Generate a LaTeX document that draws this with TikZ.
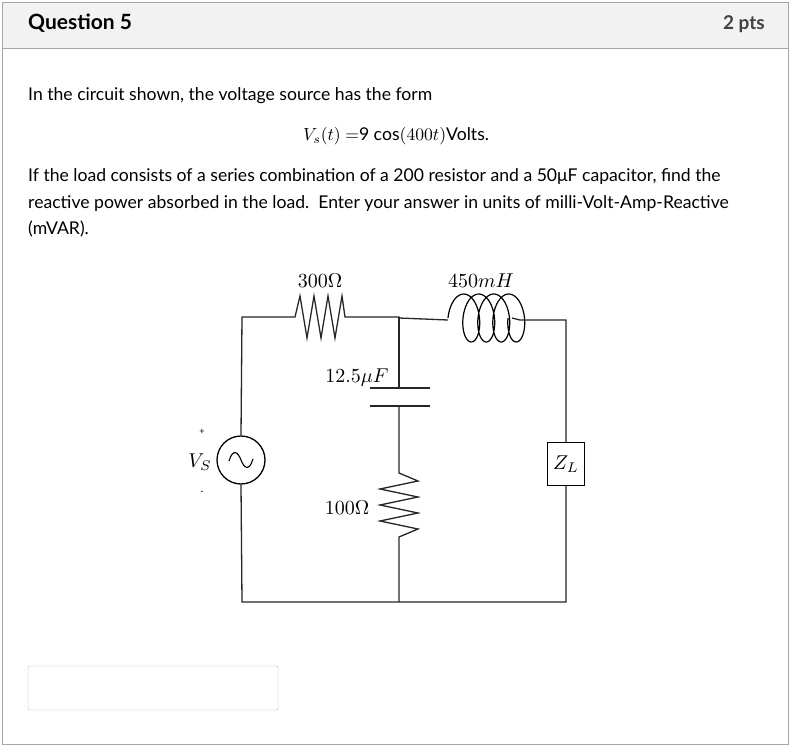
\documentclass[tikz,border=0pt]{standalone}
\usepackage{fontspec}
\setmainfont{Lato}
\begin{document}
\begin{tikzpicture}[x=1pt,y=-1pt,
  wire/.style={line width=1.3pt,black!85},
  txt/.style={anchor=base west,inner sep=0,font=\fontsize{17.6}{21}\selectfont},
  clab/.style={inner sep=0,scale=2}]
\useasboundingbox (0,0) rectangle (795,746);
\fill[white] (0,0) rectangle (795,746);
\fill[black!5] (2,2) rectangle (788,48);
\draw[black!35] (2,2) rectangle (788,744);
\draw[black!35] (2,48) -- (788,48);
\node[anchor=base west,inner sep=0,font=\fontsize{21}{24}\selectfont\bfseries] (q) at (28,30) {Question 5};
\node[anchor=base east,inner sep=0,font=\fontsize{19}{22}\selectfont\bfseries,text=black!75] (p) at (765,30) {2 pts};
\node[txt] (t1) at (28,101) {In the circuit shown, the voltage source has the form};
\node[anchor=base,inner sep=0,scale=1.76] (eq) at (396,141) {$V_s(t)$ $=$9 $\cos(400t)$Volts.};
\node[txt] (t2) at (28,182) {If the load consists of a series combination of a 200 resistor and a 50μF capacitor, find the};
\node[txt] (t3) at (28,209) {reactive power absorbed in the load.\ \ Enter your answer in units of milli-Volt-Amp-Reactive};
\node[txt] (t4) at (28,235) {(mVAR).};
\draw[black!25,rounded corners=2pt] (28,666) rectangle (278,710);
% circuit
\coordinate (tl) at (242,317);
\coordinate (r1a) at (292,317);
\coordinate (r1b) at (348,317);
\coordinate (j) at (399,317);
\coordinate (la) at (448,320);
\coordinate (lb) at (520,320);
\coordinate (tr) at (566,320);
\coordinate (bl) at (242,602);
\coordinate (bm) at (399,602);
\coordinate (br) at (566,602);
\node[draw,circle,line width=1.3pt,minimum size=48pt,inner sep=0] (src) at (241,460) {};
\draw[line width=1.1pt] (229,461) .. controls (233,448) and (238,452) .. (241,460) .. controls (244,468) and (249,472) .. (253,459);
\node[draw,line width=1.1pt,minimum width=37pt,minimum height=43pt,inner sep=0] (zl) at (566,464) {};
\node[clab] at (566,464) {$Z_L$};
\draw[wire] (src.north) -- (tl) -- (r1a);
\draw[wire] (r1a) -- (295,317) -- (300,296) -- (307,338) -- (314,296) -- (321,338) -- (328,296) -- (335,338) -- (342,296) -- (345,317) -- (r1b);
\draw[wire] (r1b) -- (j) -- (399,318) -- (la);
\draw[line width=1.2pt,smooth,samples=160,domain=0:4,variable=\u]
  plot ({460+15*\u+12*cos(360*\u+180)},{318+24*sin(360*\u+180)});
\draw[wire] (512,318) -- (lb) -- (tr) -- (zl.north);
\draw[wire] (zl.south) -- (br) -- (bm) -- (bl) -- (src.south);
\draw[wire] (j) -- (399,388);
\draw[wire] (370,388) -- (430,388);
\draw[wire] (370,406) -- (430,406);
\draw[wire] (399,406) -- (399,473) -- (418,481) -- (380,489) -- (418,497) -- (380,505) -- (418,513) -- (380,521) -- (418,529) -- (399,537) -- (bm);
\node[clab] (l1) at (320,281) {$300\Omega$};
\node[clab] (l2) at (481,281) {$450mH$};
\node[clab] (l3) at (357,378) {$12.5\mu F$};
\node[clab] (l4) at (347,508) {$100\Omega$};
\node[clab] (vs) at (200,462) {$V_S$};
\node[inner sep=0,font=\small] at (202,432) {+};
\node[inner sep=0,font=\small] at (202,493) {-};
\end{tikzpicture}
\end{document}
